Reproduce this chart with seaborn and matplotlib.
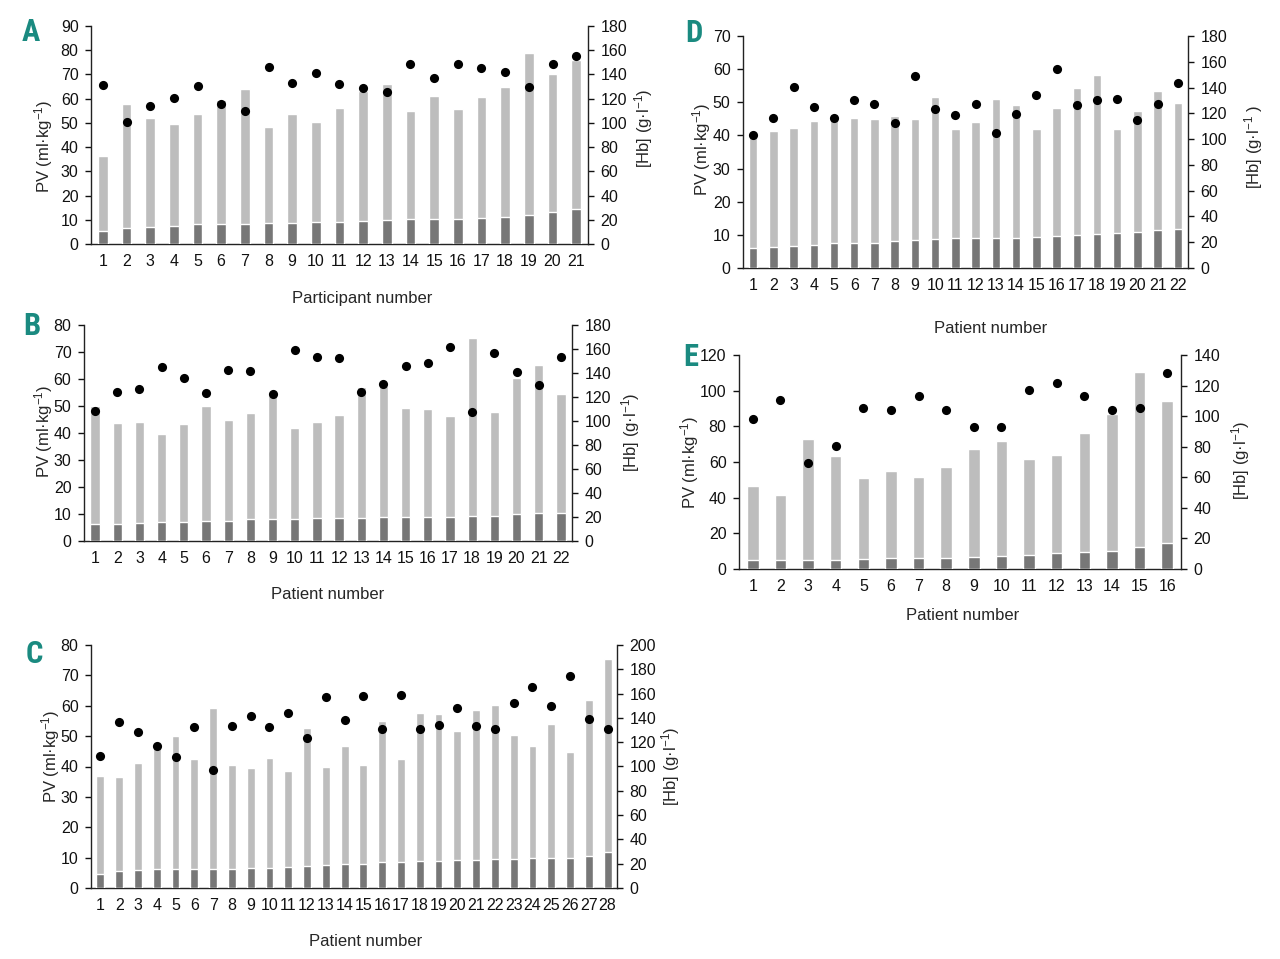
import numpy as np
import pandas as pd
import matplotlib
matplotlib.use("Agg")
import matplotlib.pyplot as plt
import seaborn as sns

# ---------------- data ----------------
A_pv = [36.5, 57.6, 52.1, 49.5, 53.5, 59.3, 64.1, 48.1, 53.5, 50.5, 56.3, 63.0, 65.9, 55.0, 60.9, 55.6, 60.7, 64.9, 78.8, 70.2, 75.8]
A_low = [5.4, 6.7, 7.0, 7.3, 8.1, 8.3, 8.3, 8.5, 8.7, 8.9, 9.2, 9.5, 10.0, 10.2, 10.2, 10.5, 10.6, 11.3, 12.1, 13.1, 14.6]
A_hb = [131.5, 100.4, 113.6, 120.8, 130.1, 115.3, 110, 146, 132.9, 140.8, 132, 128.7, 125.2, 148.8, 137.3, 148.8, 145.5, 142, 129.6, 148.8, 155.2]

B_pv = [50.1, 43.7, 44.2, 39.6, 43.2, 50.0, 44.8, 47.4, 54.1, 41.9, 44.2, 46.8, 56.9, 57.4, 49.1, 48.9, 46.4, 75.1, 47.8, 60.4, 65.3, 54.3]
B_low = [6.2, 6.3, 6.7, 6.9, 6.9, 7.3, 7.5, 8.0, 8.1, 8.1, 8.4, 8.6, 8.6, 8.9, 8.9, 9.0, 9.0, 9.1, 9.4, 10.0, 10.2, 10.2]
B_hb = [108.3, 124.2, 126.4, 145.3, 135.6, 123.3, 142.2, 141.4, 122.2, 159.5, 153.6, 152.2, 124, 130.6, 145.6, 148.3, 161.7, 107.2, 157, 140.6, 130.3, 153.6]

C_pv = [37.0, 36.5, 41.0, 46.6, 50.1, 42.4, 59.2, 40.5, 39.6, 42.7, 38.6, 52.6, 39.8, 46.9, 40.4, 54.9, 42.6, 57.5, 57.2, 51.6, 58.7, 60.4, 50.5, 46.8, 54.0, 44.8, 62.0, 75.5]
C_low = [4.7, 5.7, 6.0, 6.2, 6.2, 6.4, 6.4, 6.4, 6.6, 6.7, 6.8, 7.4, 7.5, 7.8, 7.8, 8.6, 8.7, 8.9, 8.9, 9.1, 9.3, 9.4, 9.5, 9.8, 9.9, 9.9, 10.6, 11.7]
C_hb = [109, 136.5, 128.3, 117, 108, 132.1, 97, 133.2, 141.2, 132.1, 144.2, 123.1, 157.4, 138.2, 157.9, 130.9, 158.7, 130.9, 134.4, 148.5, 133.3, 131.1, 152.6, 165.6, 149.9, 174.7, 139.4, 131.1]

D_pv = [40.0, 41.3, 42.3, 44.5, 46.5, 45.4, 44.9, 45.9, 45.0, 51.7, 41.9, 44.2, 51.0, 49.3, 41.8, 48.3, 54.3, 58.3, 41.8, 47.4, 53.5, 49.7]
D_low = [6.1, 6.2, 6.7, 7.0, 7.4, 7.4, 7.6, 8.2, 8.5, 8.9, 9.1, 9.2, 9.2, 9.2, 9.5, 9.8, 10.0, 10.4, 10.5, 10.9, 11.5, 11.9]
D_hb = [103.2, 116.1, 140.6, 125.3, 116.1, 130.3, 127.6, 112.7, 148.8, 123.3, 118.9, 126.9, 104.9, 119.6, 134.6, 154.2, 126.1, 130.5, 131.0, 114.7, 127.6, 143.6]

E_pv = [46.3, 41.6, 73.1, 63.2, 51.2, 54.9, 51.5, 57.4, 67.3, 71.7, 61.6, 64.0, 76.4, 87.0, 110.6, 94.1]
E_low = [4.9, 4.9, 4.9, 5.1, 5.6, 6.2, 6.4, 6.4, 6.8, 7.1, 8.1, 8.8, 9.7, 9.9, 12.3, 14.4]
E_hb = [98.4, 110.6, 69.3, 80.3, 105.4, 104.3, 113.5, 104.3, 93.2, 93.0, 117.2, 122.0, 113.1, 103.9, 105.2, 128.2]

# ---------------- style ----------------
sns.set_theme(style="white")
plt.rcParams["font.family"] = ["Liberation Sans", "DejaVu Sans"]
plt.rcParams["mathtext.default"] = "regular"

LIGHT = "#bdbdbd"
DARK = "#777777"
TEAL = "#1a8a80"
TICK_FS = 11.5
LAB_FS = 12

fig = plt.figure(figsize=(12.8, 9.59), dpi=100)
W, H = 1280, 959


def add_axes(x0, x1, y0, y1):
    return fig.add_axes([x0 / W, 1 - y1 / H, (x1 - x0) / W, (y1 - y0) / H])


def panel(box, pv, low, hb, lmax, lstep, rmax, rstep, xlabel, xl, yl, rl, rlabel):
    ax = add_axes(*box)
    n = len(pv)
    cats = [str(i + 1) for i in range(n)]
    df = pd.DataFrame({"cat": cats, "pv": pv, "low": low, "hb": hb})
    sns.barplot(data=df, x="cat", y="pv", color=LIGHT, saturation=1, width=0.42,
                ax=ax, zorder=2, errorbar=None)
    sns.barplot(data=df, x="cat", y="low", color=DARK, saturation=1, width=0.42,
                ax=ax, zorder=3, errorbar=None)
    ax2 = ax.twinx()
    sns.stripplot(data=df, x="cat", y="hb", color="black", size=6.6, jitter=False,
                  ax=ax2, zorder=4)
    ax.set_xlim(-0.5, n - 0.5)
    ax2.set_xlim(-0.5, n - 0.5)
    ax.set_ylim(0, lmax)
    ax.set_yticks(np.arange(0, lmax + 0.1, lstep))
    ax2.set_ylim(0, rmax)
    ax2.set_yticks(np.arange(0, rmax + 0.1, rstep))
    for a in (ax, ax2):
        a.spines["top"].set_visible(False)
        for s in ("left", "right", "bottom"):
            a.spines[s].set_color("#222222")
            a.spines[s].set_linewidth(1.0)
        a.set_facecolor("none")
    ax.spines["right"].set_visible(False)
    ax2.spines["left"].set_visible(False)
    ax2.spines["bottom"].set_visible(False)
    ax.tick_params(axis="x", length=0, pad=7, labelsize=TICK_FS, colors="#111111")
    ax.tick_params(axis="y", left=True, length=4, width=1, pad=5, labelsize=TICK_FS,
                   colors="#111111")
    ax2.tick_params(axis="y", right=True, length=4, width=1, pad=5, labelsize=TICK_FS,
                    colors="#111111")
    ax.set_xlabel(xlabel, fontsize=LAB_FS)
    ax.xaxis.set_label_coords(*xl)
    ax.set_ylabel(r"PV (ml·kg$^{-1}$)", fontsize=LAB_FS)
    ax.yaxis.set_label_coords(*yl)
    ax2.set_ylabel(rlabel, fontsize=LAB_FS, rotation=90)
    ax2.yaxis.set_label_coords(*rl)
    ax.grid(False)
    ax2.grid(False)
    return ax


hb_lab = r"[Hb] (g·l$^{-1}$)"
panel((91, 588, 26, 244), A_pv, A_low, A_hb, 90, 10, 180, 20, "Participant number",
      (0.545, -0.215), (-0.073, 0.45), (1.089, 0.53), hb_lab)
panel((84, 572, 325, 541), B_pv, B_low, B_hb, 80, 10, 180, 20, "Patient number",
      (0.5, -0.215), (-0.059, 0.51), (1.097, 0.505), hb_lab)
panel((91, 617, 645, 888), C_pv, C_low, C_hb, 80, 10, 200, 20, "Patient number",
      (0.523, -0.19), (-0.055, 0.54), (1.08, 0.5), hb_lab)
panel((743, 1188, 36, 268), D_pv, D_low, D_hb, 70, 10, 180, 20, "Patient number",
      (0.556, -0.23), (-0.068, 0.51), (1.122, 0.52), r"[Hb] (g·l$^{-1}$ )")
panel((739, 1181, 355, 569), E_pv, E_low, E_hb, 120, 20, 140, 20, "Patient number",
      (0.505, -0.18), (-0.086, 0.5), (1.109, 0.51), hb_lab)

letter_family = ["Roboto Condensed", "Liberation Sans Narrow", "DejaVu Sans"]
for lab, x, y, fs in [("A", 31, 32, 22), ("B", 32, 326, 22), ("C", 34, 654, 22),
                      ("D", 694, 33, 22), ("E", 691, 357, 22)]:
    fig.text(x / W, 1 - y / H, lab, color=TEAL, fontsize=fs, fontweight="bold",
             family=letter_family, ha="center", va="center")

fig.savefig("out.png", dpi=100, facecolor="white")
